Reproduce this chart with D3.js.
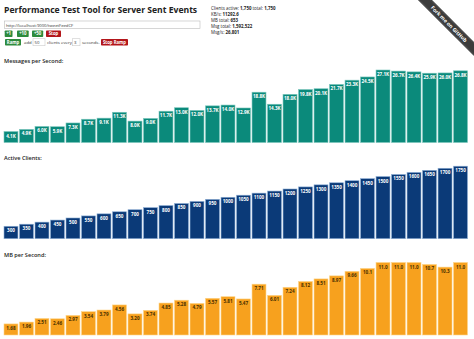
<!DOCTYPE html>
<html>
<head>
<meta charset="utf-8">
<script src="https://cdn.jsdelivr.net/npm/d3@7"></script>
<style>
  html, body { margin: 0; padding: 0; background: #fff; }
  svg { display: block; font-family: "Open Sans", "DejaVu Sans", sans-serif; }
</style>
</head>
<body>
<div id="chart"></div>
<script>
// values, one bar per ramp step
const steps = d3.range(1, 31);
const msgPerSec = [4.1, 4.9, 6.0, 5.9, 7.3, 8.7, 9.1, 11.3, 8.0, 9.0, 11.7, 13.0, 12.0, 13.7, 14.0,
  12.9, 18.8, 14.3, 18.0, 19.8, 20.1, 21.7, 23.3, 24.5, 27.1, 26.7, 26.4, 25.9, 26.0, 26.8];
const activeClients = [300, 350, 400, 450, 500, 550, 600, 650, 700, 750, 800, 850, 900, 950, 1000,
  1050, 1100, 1150, 1200, 1250, 1300, 1350, 1400, 1450, 1500, 1550, 1600, 1650, 1700, 1750];
const mbPerSec = [1.68, 1.96, 2.51, 2.46, 2.97, 3.54, 3.79, 4.56, 3.20, 3.74, 4.85, 5.28, 4.79, 5.57, 5.81,
  5.47, 7.71, 6.01, 7.24, 8.12, 8.51, 8.97, 9.66, 10.1, 11.0, 11.0, 11.0, 10.7, 10.3, 11.0];

const panelTitles = ["Messages per Second:", "Active Clients:", "MB per Second:"];
const statLines = [
  [["Clients active: ", false], ["1,750", true], [" total: ", false], ["1,750", true]],
  [["KB/s: ", false], ["11292.6", true]],
  [["MB total: ", false], ["653", true]],
  [["Msg total: ", false], ["1,592,522", true]],
  [["Msg/s: ", false], ["26,801", true]]
];

const W = 474, H = 339;
const svg = d3.select("#chart").append("svg")
  .attr("width", W).attr("height", H);

// header
svg.append("text")
  .attr("x", 4).attr("y", 13)
  .attr("font-size", 8.6).attr("font-weight", "bold").attr("fill", "#222")
  .text("Performance Test Tool for Server Sent Events");

// url box
svg.append("rect").attr("x", 4.5).attr("y", 21).attr("width", 195.5).attr("height", 7.5)
  .attr("fill", "#fff").attr("stroke", "#bbb").attr("stroke-width", 0.6);
svg.append("text").attr("x", 6).attr("y", 26.6).attr("font-size", 4.2).attr("fill", "#333")
  .text("http://localhost:9000/tweetFeedCF");

function button(x, y, w, label, color) {
  svg.append("rect").attr("x", x).attr("y", y).attr("width", w).attr("height", 6.5)
    .attr("rx", 0.8).attr("fill", color);
  svg.append("text").attr("x", x + w / 2).attr("y", y + 4.7)
    .attr("text-anchor", "middle").attr("font-size", 4.3).attr("font-weight", "bold")
    .attr("fill", "#fff").text(label);
}
function plain(x, y, t) {
  svg.append("text").attr("x", x).attr("y", y).attr("font-size", 4.3).attr("fill", "#333").text(t);
}
function inputBox(x, y, w, t) {
  svg.append("rect").attr("x", x).attr("y", y).attr("width", w).attr("height", 7)
    .attr("fill", "#fff").attr("stroke", "#ccc").attr("stroke-width", 0.6);
  svg.append("text").attr("x", x + 1.5).attr("y", y + 5).attr("font-size", 4.3).attr("fill", "#333").text(t);
}
const green = "#2e8b3d", red = "#b3161b";
button(4.7, 30.5, 7.8, "+1", green);
button(17, 30.5, 11.7, "+10", green);
button(32, 30.5, 11.2, "+50", green);
button(46, 30.5, 15, "Stop", red);
button(5, 39, 16, "Ramp", green);
plain(24, 43.8, "add");
inputBox(33, 38.7, 12, "50");
plain(47, 43.8, "clients every");
inputBox(72.5, 38.7, 7.5, "3");
plain(82, 43.8, "seconds.");
button(101, 39, 27, "Stop Ramp", red);

// stats block on the right
statLines.forEach((line, i) => {
  const t = svg.append("text").attr("x", 211).attr("y", 9.6 + i * 6.1)
    .attr("font-size", 4.4).attr("fill", "#222");
  line.forEach(([s, b]) => t.append("tspan").attr("font-weight", b ? "bold" : "normal").text(s));
});

// bar panels
const x = d3.scaleBand().domain(steps).range([4, 467.5]).paddingInner(0.1).paddingOuter(0);

const panels = [
  { values: msgPerSec, base: 142.5, titleY: 63, fill: "#0b8a7b", stroke: "#7cc7bd", labelFill: "#fff",
    fmt: d => d.toFixed(1) + "K" },
  { values: activeClients, base: 238.7, titleY: 160, fill: "#0b3a78", stroke: "#8fb0d6", labelFill: "#fff",
    fmt: d => String(d) },
  { values: mbPerSec, base: 335, titleY: 256.5, fill: "#f7a11e", stroke: "#fdd58a", labelFill: "#4a3000",
    fmt: d => d >= 10 ? d.toFixed(1) : d.toFixed(2) }
];

panels.forEach((p, k) => {
  svg.append("text").attr("x", 4).attr("y", p.titleY)
    .attr("font-size", 5.6).attr("font-weight", 600).attr("fill", "#222")
    .text(panelTitles[k]);

  const y = d3.scaleLinear().domain([0, d3.max(p.values)]).range([p.base, p.base - 72.5]);
  const g = svg.append("g");
  const rows = p.values.map((v, i) => ({ step: steps[i], v }));

  g.selectAll("rect").data(rows).join("rect")
    .attr("x", d => x(d.step))
    .attr("y", d => y(d.v))
    .attr("width", x.bandwidth())
    .attr("height", d => y(0) - y(d.v))
    .attr("fill", p.fill)
    .attr("stroke", p.stroke)
    .attr("stroke-width", 0.6);

  g.selectAll("text").data(rows).join("text")
    .attr("x", d => x(d.step) + x.bandwidth() / 2)
    .attr("y", d => y(d.v) + 6)
    .attr("text-anchor", "middle")
    .attr("font-size", 4.6)
    .attr("font-weight", "bold")
    .attr("fill", p.labelFill)
    .text(d => p.fmt(d.v));
});

// "Fork me on GitHub" ribbon
const rib = svg.append("g").attr("transform", "translate(449,24) rotate(45)");
rib.append("rect").attr("x", -40).attr("y", -5).attr("width", 80).attr("height", 10).attr("fill", "#3b3b3b");
rib.append("line").attr("x1", -40).attr("x2", 40).attr("y1", -4).attr("y2", -4)
  .attr("stroke", "#999").attr("stroke-width", 0.4).attr("stroke-dasharray", "1,0.6");
rib.append("line").attr("x1", -40).attr("x2", 40).attr("y1", 4).attr("y2", 4)
  .attr("stroke", "#999").attr("stroke-width", 0.4).attr("stroke-dasharray", "1,0.6");
rib.append("text").attr("x", 0).attr("y", 1.9).attr("text-anchor", "middle")
  .attr("font-size", 5.2).attr("font-weight", "bold").attr("fill", "#fff").text("Fork me on GitHub");
</script>
</body>
</html>
